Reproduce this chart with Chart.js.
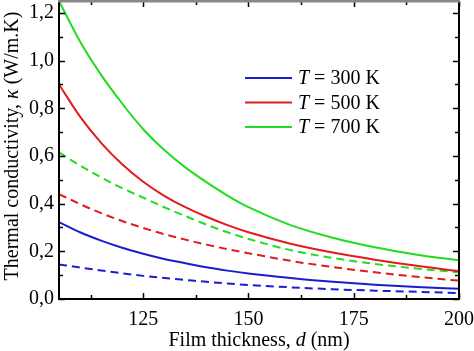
<!DOCTYPE html>
<html>
<head>
<meta charset="utf-8">
<script src="https://cdn.jsdelivr.net/npm/chart.js@4"></script>
<style>
  html, body { margin: 0; padding: 0; background: #fff; }
  #wrap { width: 474px; height: 351px; }
</style>
</head>
<body>
<div id="wrap"><canvas id="kappaChart" width="474" height="351"></canvas></div>
<script>
// film thickness (nm)
const thickness = [105, 110, 115, 120, 125, 130, 135, 140, 145, 150, 160, 170, 180, 190, 200];

// thermal conductivity (W/m.K), solid lines
const k300 = [0.322, 0.28, 0.245, 0.215, 0.19, 0.168, 0.15, 0.133, 0.119, 0.107, 0.088, 0.072, 0.06, 0.05, 0.043];
const k500 = [0.90, 0.765, 0.655, 0.565, 0.492, 0.433, 0.385, 0.345, 0.31, 0.28, 0.232, 0.195, 0.165, 0.139, 0.117];
const k700 = [1.25, 1.08, 0.94, 0.82, 0.712, 0.625, 0.552, 0.49, 0.434, 0.385, 0.31, 0.257, 0.217, 0.186, 0.162];

// dashed lines
const k300b = [0.145, 0.132, 0.12, 0.108, 0.097, 0.088, 0.08, 0.072, 0.065, 0.059, 0.049, 0.041, 0.035, 0.03, 0.025];
const k500b = [0.44, 0.398, 0.36, 0.327, 0.298, 0.272, 0.249, 0.228, 0.209, 0.192, 0.16, 0.134, 0.112, 0.093, 0.077];
const k700b = [0.615, 0.56, 0.51, 0.465, 0.425, 0.385, 0.348, 0.312, 0.28, 0.252, 0.205, 0.172, 0.147, 0.128, 0.112];

const legendLabels = ["300 K", "500 K", "700 K"];

const xMajor = [125, 150, 175, 200];
const xMinor = [112.5, 137.5, 162.5, 187.5];
const yMajor = [0, 0.2, 0.4, 0.6, 0.8, 1.0, 1.2];
const yMinor = [0.1, 0.3, 0.5, 0.7, 0.9, 1.1];

const BLUE = "#1c1cd0";
const RED = "#e01c1c";
const GREEN = "#22dc22";
const SERIF = "'Liberation Serif', 'Times New Roman', serif";

function series(label, values, color, dashed) {
    return {
        label: label,
        data: thickness.map((d, i) => ({ x: d, y: values[i] })),
        borderColor: color,
        borderWidth: 2,
        borderDash: dashed ? [8, 5] : [],
        pointRadius: 0,
        cubicInterpolationMode: "monotone",
        fill: false
    };
}

// frame, inward ticks, axis titles and legend
const decor = {
    id: "decor",
    afterDraw(chart) {
        const ctx = chart.ctx;
        const a = chart.chartArea;
        const xs = chart.scales.x, ys = chart.scales.y;
        ctx.save();

        // ticks
        ctx.strokeStyle = "#000";
        ctx.lineWidth = 1.5;
        ctx.beginPath();
        xMajor.concat(xMinor).forEach(v => {
            const len = xMajor.includes(v) ? 6 : 4;
            const px = Math.round(xs.getPixelForValue(v)) + 0.5;
            ctx.moveTo(px, a.bottom); ctx.lineTo(px, a.bottom - len);
            ctx.moveTo(px, a.top); ctx.lineTo(px, a.top + len);
        });
        yMajor.concat(yMinor).forEach(v => {
            const len = yMajor.includes(v) ? 6 : 4;
            const py = Math.round(ys.getPixelForValue(v)) + 0.5;
            ctx.moveTo(a.left, py); ctx.lineTo(a.left + len, py);
            ctx.moveTo(a.right, py); ctx.lineTo(a.right - len, py);
        });
        ctx.stroke();

        // frame
        ctx.lineWidth = 2;
        ctx.beginPath();
        ctx.moveTo(a.left, a.top); ctx.lineTo(a.left, a.bottom);
        ctx.lineTo(a.right, a.bottom); ctx.lineTo(a.right, a.top);
        ctx.stroke();
        ctx.strokeStyle = "#888";
        ctx.lineWidth = 3;
        ctx.beginPath();
        ctx.moveTo(a.left - 1, a.top); ctx.lineTo(a.right + 1, a.top);
        ctx.stroke();

        // mixed-style text helper
        function drawParts(parts, x, y, align) {
            let total = 0;
            parts.forEach(p => { ctx.font = p[1]; total += ctx.measureText(p[0]).width; });
            let cx = align === "center" ? x - total / 2 : x;
            ctx.textAlign = "left";
            ctx.textBaseline = "middle";
            parts.forEach(p => {
                ctx.font = p[1];
                ctx.fillText(p[0], cx, y);
                cx += ctx.measureText(p[0]).width;
            });
        }
        const norm = "20px " + SERIF;
        const ital = "italic 20px " + SERIF;
        ctx.fillStyle = "#000";

        // x title
        drawParts([["Film thickness, ", norm], ["d", ital], [" (nm)", norm]],
            (a.left + a.right) / 2, 341, "center");

        // y title
        ctx.save();
        ctx.translate(13, (a.top + a.bottom) / 2 - 4);
        ctx.rotate(-Math.PI / 2);
        drawParts([["Thermal conductivity, ", norm], ["\u03BA", ital], [" (W/m.K)", norm]], 0, 0, "center");
        ctx.restore();

        // legend
        const colors = [BLUE, RED, GREEN];
        legendLabels.forEach((lab, i) => {
            const y = 78 + i * 24.5;
            ctx.strokeStyle = colors[i];
            ctx.lineWidth = 2;
            ctx.beginPath();
            ctx.moveTo(245, y); ctx.lineTo(292, y);
            ctx.stroke();
            drawParts([["T", ital], [" = " + lab, norm]], 298, y + 1, "left");
        });

        ctx.restore();
    }
};

new Chart(document.getElementById("kappaChart"), {
    type: "line",
    data: {
        datasets: [
            series("T = 300 K", k300, BLUE, false),
            series("T = 500 K", k500, RED, false),
            series("T = 700 K", k700, GREEN, false),
            series("300 K dashed", k300b, BLUE, true),
            series("500 K dashed", k500b, RED, true),
            series("700 K dashed", k700b, GREEN, true)
        ]
    },
    options: {
        responsive: false,
        animation: false,
        layout: { padding: { top: 1, right: 15, left: 0, bottom: 0 } },
        plugins: {
            legend: { display: false },
            tooltip: { enabled: false }
        },
        scales: {
            x: {
                type: "linear",
                min: 105,
                max: 200,
                afterBuildTicks: s => { s.ticks = xMajor.map(v => ({ value: v })); },
                afterFit: s => { s.height = 52; s.paddingLeft = 0; s.paddingRight = 0; },
                grid: { display: false, drawTicks: false },
                border: { display: false },
                ticks: {
                    padding: 9,
                    color: "#000",
                    font: { family: SERIF, size: 20 },
                    maxRotation: 0,
                    callback: v => String(v)
                }
            },
            y: {
                type: "linear",
                min: 0,
                max: 1.25,
                afterBuildTicks: s => { s.ticks = yMajor.map(v => ({ value: v })); },
                afterFit: s => { s.width = 59; s.paddingTop = 0; s.paddingBottom = 0; },
                grid: { display: false, drawTicks: false },
                border: { display: false },
                ticks: {
                    padding: 5,
                    color: "#000",
                    font: { family: SERIF, size: 20 },
                    callback: v => v.toFixed(1).replace(".", ",")
                }
            }
        }
    },
    plugins: [decor]
});
</script>
</body>
</html>
